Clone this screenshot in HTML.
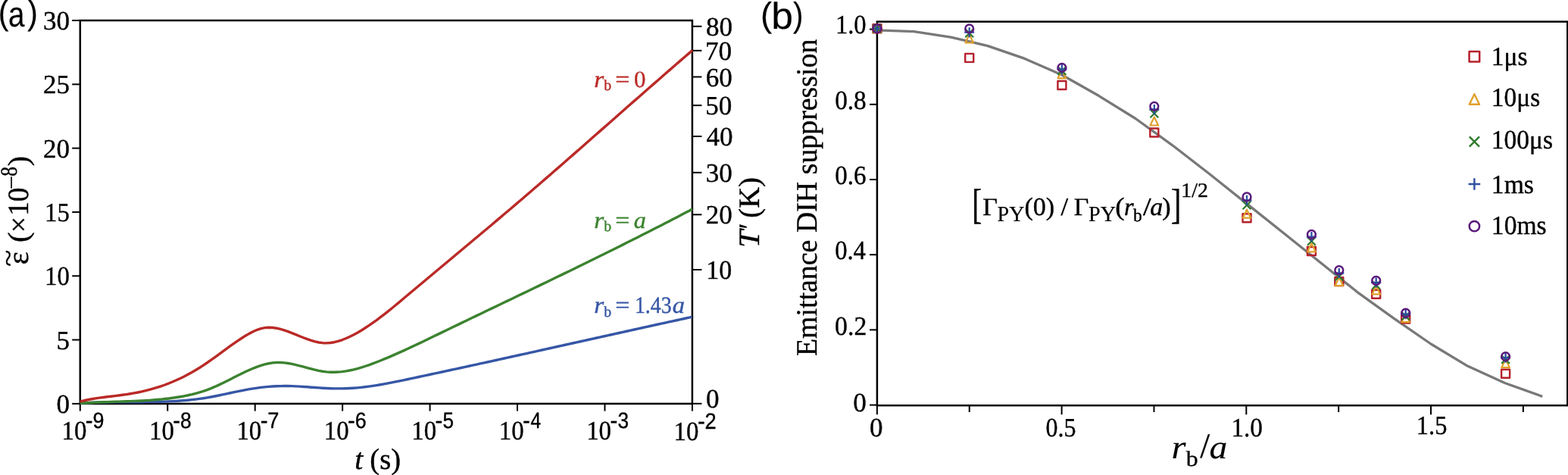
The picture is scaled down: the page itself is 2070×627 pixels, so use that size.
<!DOCTYPE html>
<html lang="en">
<head>
<meta charset="utf-8">
<title>Emittance growth and DIH suppression</title>
<style>
html,body{margin:0;padding:0;background:#fff;}
body{width:2070px;height:627px;overflow:hidden;}
svg{display:block;}
text{white-space:pre;text-rendering:geometricPrecision;font-kerning:none;stroke-linejoin:round;}
</style>
</head>
<body>
<svg width="2070" height="627" viewBox="0 0 2070 627">
<rect x="0" y="0" width="2070" height="627" fill="#ffffff"/>
<rect x="105.80" y="27.00" width="808.10" height="505.90" fill="none" stroke="#000" stroke-width="2.50"/>
<line x1="95.20" y1="532.90" x2="105.80" y2="532.90" stroke="#000" stroke-width="2.00"/>
<text transform="translate(74.43 544.90)" font-family='"Liberation Serif", "DejaVu Serif", serif' font-size="35.00" fill="#000" stroke="#000" stroke-width="0.40">0</text>
<line x1="95.20" y1="448.58" x2="105.80" y2="448.58" stroke="#000" stroke-width="2.00"/>
<text transform="translate(74.47 460.58)" font-family='"Liberation Serif", "DejaVu Serif", serif' font-size="35.00" fill="#000" stroke="#000" stroke-width="0.40">5</text>
<line x1="95.20" y1="364.27" x2="105.80" y2="364.27" stroke="#000" stroke-width="2.00"/>
<text transform="translate(59.02 376.27) scale(0.9379 1.0000)" font-family='"Liberation Serif", "DejaVu Serif", serif' font-size="35.00" fill="#000" stroke="#000" stroke-width="0.40">10</text>
<line x1="95.20" y1="279.95" x2="105.80" y2="279.95" stroke="#000" stroke-width="2.00"/>
<text transform="translate(59.06 291.95) scale(0.9378 1.0000)" font-family='"Liberation Serif", "DejaVu Serif", serif' font-size="35.00" fill="#000" stroke="#000" stroke-width="0.40">15</text>
<line x1="95.20" y1="195.63" x2="105.80" y2="195.63" stroke="#000" stroke-width="2.00"/>
<text transform="translate(56.93 207.63)" font-family='"Liberation Serif", "DejaVu Serif", serif' font-size="35.00" fill="#000" stroke="#000" stroke-width="0.40">20</text>
<line x1="95.20" y1="111.32" x2="105.80" y2="111.32" stroke="#000" stroke-width="2.00"/>
<text transform="translate(56.97 123.32)" font-family='"Liberation Serif", "DejaVu Serif", serif' font-size="35.00" fill="#000" stroke="#000" stroke-width="0.40">25</text>
<line x1="95.20" y1="27.00" x2="105.80" y2="27.00" stroke="#000" stroke-width="2.00"/>
<text transform="translate(56.93 39.00)" font-family='"Liberation Serif", "DejaVu Serif", serif' font-size="35.00" fill="#000" stroke="#000" stroke-width="0.40">30</text>
<line x1="105.80" y1="532.90" x2="105.80" y2="542.60" stroke="#000" stroke-width="2.00"/>
<g><text transform="translate(81.51 580.00) scale(0.9382 1.0000)" font-family='"Liberation Serif", "DejaVu Serif", serif' font-size="35.00" fill="#000" stroke="#000" stroke-width="0.40">10</text><text transform="translate(112.79 565.10) scale(0.9830 1.0000)" font-family='"Liberation Sans", "DejaVu Sans", sans-serif' font-size="30.00" fill="#000" stroke="#000" stroke-width="0.40">-</text><text transform="translate(122.54 565.10) scale(0.9100 1.0000)" font-family='"Liberation Sans", "DejaVu Sans", sans-serif' font-size="29.50" fill="#000" stroke="#000" stroke-width="0.40">9</text></g>
<line x1="221.24" y1="532.90" x2="221.24" y2="542.60" stroke="#000" stroke-width="2.00"/>
<g><text transform="translate(196.96 580.00) scale(0.9382 1.0000)" font-family='"Liberation Serif", "DejaVu Serif", serif' font-size="35.00" fill="#000" stroke="#000" stroke-width="0.40">10</text><text transform="translate(228.23 565.10) scale(0.9830 1.0000)" font-family='"Liberation Sans", "DejaVu Sans", sans-serif' font-size="30.00" fill="#000" stroke="#000" stroke-width="0.40">-</text><text transform="translate(238.09 565.10) scale(0.8958 1.0000)" font-family='"Liberation Sans", "DejaVu Sans", sans-serif' font-size="29.50" fill="#000" stroke="#000" stroke-width="0.40">8</text></g>
<line x1="336.69" y1="532.90" x2="336.69" y2="542.60" stroke="#000" stroke-width="2.00"/>
<g><text transform="translate(312.40 580.00) scale(0.9382 1.0000)" font-family='"Liberation Serif", "DejaVu Serif", serif' font-size="35.00" fill="#000" stroke="#000" stroke-width="0.40">10</text><text transform="translate(343.68 565.10) scale(0.9830 1.0000)" font-family='"Liberation Sans", "DejaVu Sans", sans-serif' font-size="30.00" fill="#000" stroke="#000" stroke-width="0.40">-</text><text transform="translate(353.29 565.10) scale(0.9247 1.0000)" font-family='"Liberation Sans", "DejaVu Sans", sans-serif' font-size="29.50" fill="#000" stroke="#000" stroke-width="0.40">7</text></g>
<line x1="452.13" y1="532.90" x2="452.13" y2="542.60" stroke="#000" stroke-width="2.00"/>
<g><text transform="translate(427.84 580.00) scale(0.9382 1.0000)" font-family='"Liberation Serif", "DejaVu Serif", serif' font-size="35.00" fill="#000" stroke="#000" stroke-width="0.40">10</text><text transform="translate(459.12 565.10) scale(0.9830 1.0000)" font-family='"Liberation Sans", "DejaVu Sans", sans-serif' font-size="30.00" fill="#000" stroke="#000" stroke-width="0.40">-</text><text transform="translate(468.76 565.10) scale(0.9110 1.0000)" font-family='"Liberation Sans", "DejaVu Sans", sans-serif' font-size="29.50" fill="#000" stroke="#000" stroke-width="0.40">6</text></g>
<line x1="567.57" y1="532.90" x2="567.57" y2="542.60" stroke="#000" stroke-width="2.00"/>
<g><text transform="translate(543.29 580.00) scale(0.9382 1.0000)" font-family='"Liberation Serif", "DejaVu Serif", serif' font-size="35.00" fill="#000" stroke="#000" stroke-width="0.40">10</text><text transform="translate(574.56 565.10) scale(0.9830 1.0000)" font-family='"Liberation Sans", "DejaVu Sans", sans-serif' font-size="30.00" fill="#000" stroke="#000" stroke-width="0.40">-</text><text transform="translate(584.52 565.10) scale(0.8866 1.0000)" font-family='"Liberation Sans", "DejaVu Sans", sans-serif' font-size="29.50" fill="#000" stroke="#000" stroke-width="0.40">5</text></g>
<line x1="683.01" y1="532.90" x2="683.01" y2="542.60" stroke="#000" stroke-width="2.00"/>
<g><text transform="translate(658.73 580.00) scale(0.9382 1.0000)" font-family='"Liberation Serif", "DejaVu Serif", serif' font-size="35.00" fill="#000" stroke="#000" stroke-width="0.40">10</text><text transform="translate(690.00 565.10) scale(0.9830 1.0000)" font-family='"Liberation Sans", "DejaVu Sans", sans-serif' font-size="30.00" fill="#000" stroke="#000" stroke-width="0.40">-</text><text transform="translate(700.45 565.10) scale(0.8342 1.0000)" font-family='"Liberation Sans", "DejaVu Sans", sans-serif' font-size="29.50" fill="#000" stroke="#000" stroke-width="0.40">4</text></g>
<line x1="798.46" y1="532.90" x2="798.46" y2="542.60" stroke="#000" stroke-width="2.00"/>
<g><text transform="translate(774.17 580.00) scale(0.9382 1.0000)" font-family='"Liberation Serif", "DejaVu Serif", serif' font-size="35.00" fill="#000" stroke="#000" stroke-width="0.40">10</text><text transform="translate(805.45 565.10) scale(0.9830 1.0000)" font-family='"Liberation Sans", "DejaVu Sans", sans-serif' font-size="30.00" fill="#000" stroke="#000" stroke-width="0.40">-</text><text transform="translate(815.46 565.10) scale(0.8866 1.0000)" font-family='"Liberation Sans", "DejaVu Sans", sans-serif' font-size="29.50" fill="#000" stroke="#000" stroke-width="0.40">3</text></g>
<line x1="913.90" y1="532.90" x2="913.90" y2="542.60" stroke="#000" stroke-width="2.00"/>
<g><text transform="translate(889.61 580.80) scale(0.9382 1.0000)" font-family='"Liberation Serif", "DejaVu Serif", serif' font-size="35.00" fill="#000" stroke="#000" stroke-width="0.40">10</text><text transform="translate(920.89 565.90) scale(0.9830 1.0000)" font-family='"Liberation Sans", "DejaVu Sans", sans-serif' font-size="30.00" fill="#000" stroke="#000" stroke-width="0.40">-</text><text transform="translate(930.53 565.90) scale(0.9227 1.0000)" font-family='"Liberation Sans", "DejaVu Sans", sans-serif' font-size="29.50" fill="#000" stroke="#000" stroke-width="0.40">2</text></g>
<line x1="913.90" y1="532.80" x2="926.40" y2="532.80" stroke="#000" stroke-width="2.00"/>
<text transform="translate(931.97 537.60)" font-family='"Liberation Serif", "DejaVu Serif", serif' font-size="35.00" fill="#000" stroke="#000" stroke-width="0.40">0</text>
<line x1="913.90" y1="356.00" x2="926.40" y2="356.00" stroke="#000" stroke-width="2.00"/>
<text transform="translate(932.22 368.00) scale(0.9676 1.0000)" font-family='"Liberation Serif", "DejaVu Serif", serif' font-size="35.00" fill="#000" stroke="#000" stroke-width="0.40">10</text>
<line x1="913.90" y1="283.30" x2="926.40" y2="283.30" stroke="#000" stroke-width="2.00"/>
<text transform="translate(931.76 295.30)" font-family='"Liberation Serif", "DejaVu Serif", serif' font-size="35.00" fill="#000" stroke="#000" stroke-width="0.40">20</text>
<line x1="913.90" y1="227.80" x2="926.40" y2="227.80" stroke="#000" stroke-width="2.00"/>
<text transform="translate(931.63 239.80)" font-family='"Liberation Serif", "DejaVu Serif", serif' font-size="35.00" fill="#000" stroke="#000" stroke-width="0.40">30</text>
<line x1="913.90" y1="180.00" x2="926.40" y2="180.00" stroke="#000" stroke-width="2.00"/>
<text transform="translate(932.62 192.00)" font-family='"Liberation Serif", "DejaVu Serif", serif' font-size="35.00" fill="#000" stroke="#000" stroke-width="0.40">40</text>
<line x1="913.90" y1="139.10" x2="926.40" y2="139.10" stroke="#000" stroke-width="2.00"/>
<text transform="translate(931.27 151.10)" font-family='"Liberation Serif", "DejaVu Serif", serif' font-size="35.00" fill="#000" stroke="#000" stroke-width="0.40">50</text>
<line x1="913.90" y1="101.50" x2="926.40" y2="101.50" stroke="#000" stroke-width="2.00"/>
<text transform="translate(931.80 113.50)" font-family='"Liberation Serif", "DejaVu Serif", serif' font-size="35.00" fill="#000" stroke="#000" stroke-width="0.40">60</text>
<line x1="913.90" y1="66.80" x2="926.40" y2="66.80" stroke="#000" stroke-width="2.00"/>
<text transform="translate(930.99 78.80)" font-family='"Liberation Serif", "DejaVu Serif", serif' font-size="35.00" fill="#000" stroke="#000" stroke-width="0.40">70</text>
<line x1="913.90" y1="34.80" x2="926.40" y2="34.80" stroke="#000" stroke-width="2.00"/>
<text transform="translate(931.97 46.80)" font-family='"Liberation Serif", "DejaVu Serif", serif' font-size="35.00" fill="#000" stroke="#000" stroke-width="0.40">80</text>
<path d="M105.80 532.30 L110.88 531.98 L115.96 531.70 L121.04 531.48 L126.12 531.29 L131.21 531.14 L136.29 531.02 L141.37 530.93 L146.45 530.86 L151.53 530.81 L156.61 530.78 L161.69 530.76 L166.77 530.75 L171.85 530.74 L176.94 530.73 L182.02 530.71 L187.10 530.69 L192.18 530.65 L197.26 530.60 L202.34 530.52 L207.42 530.42 L212.50 530.29 L217.58 530.12 L222.67 529.92 L227.75 529.67 L232.83 529.38 L237.91 529.04 L242.99 528.64 L248.07 528.19 L253.15 527.67 L258.23 527.09 L263.32 526.43 L268.40 525.70 L273.48 524.89 L278.56 524.00 L283.64 523.04 L288.72 522.02 L293.80 520.96 L298.88 519.88 L303.96 518.78 L309.05 517.69 L314.13 516.62 L319.21 515.58 L324.29 514.59 L329.37 513.66 L334.45 512.81 L339.53 512.06 L344.61 511.40 L349.69 510.85 L354.78 510.40 L359.86 510.04 L364.94 509.79 L370.02 509.62 L375.10 509.55 L380.18 509.57 L385.26 509.67 L390.34 509.87 L395.42 510.13 L400.51 510.45 L405.59 510.80 L410.67 511.18 L415.75 511.56 L420.83 511.91 L425.91 512.23 L430.99 512.50 L436.07 512.71 L441.15 512.85 L446.24 512.92 L451.32 512.89 L456.40 512.78 L461.48 512.57 L466.56 512.25 L471.64 511.84 L476.72 511.34 L481.80 510.76 L486.88 510.10 L491.97 509.37 L497.05 508.58 L502.13 507.73 L507.21 506.83 L512.29 505.88 L517.37 504.90 L522.45 503.89 L527.53 502.85 L532.62 501.79 L537.70 500.72 L542.78 499.65 L547.86 498.57 L552.94 497.50 L558.02 496.41 L563.10 495.33 L568.18 494.25 L573.26 493.16 L578.35 492.07 L583.43 490.98 L588.51 489.88 L593.59 488.78 L598.67 487.69 L603.75 486.59 L608.83 485.48 L613.91 484.38 L618.99 483.28 L624.08 482.17 L629.16 481.06 L634.24 479.95 L639.32 478.84 L644.40 477.73 L649.48 476.61 L654.56 475.50 L659.64 474.38 L664.72 473.26 L669.81 472.14 L674.89 471.02 L679.97 469.90 L685.05 468.78 L690.13 467.66 L695.21 466.54 L700.29 465.41 L705.37 464.29 L710.45 463.16 L715.54 462.03 L720.62 460.91 L725.70 459.78 L730.78 458.65 L735.86 457.53 L740.94 456.40 L746.02 455.27 L751.10 454.14 L756.18 453.01 L761.27 451.88 L766.35 450.76 L771.43 449.63 L776.51 448.50 L781.59 447.37 L786.67 446.24 L791.75 445.12 L796.83 443.99 L801.92 442.86 L807.00 441.74 L812.08 440.61 L817.16 439.48 L822.24 438.36 L827.32 437.24 L832.40 436.11 L837.48 434.99 L842.56 433.87 L847.65 432.75 L852.73 431.63 L857.81 430.51 L862.89 429.40 L867.97 428.28 L873.05 427.16 L878.13 426.05 L883.21 424.94 L888.29 423.83 L893.38 422.72 L898.46 421.61 L903.54 420.51 L908.62 419.40 L913.70 418.30" fill="none" stroke="#3656a6" stroke-width="3.4" stroke-linejoin="round"/>
<path d="M105.80 532.40 L110.88 532.04 L115.97 531.72 L121.05 531.44 L126.13 531.20 L131.22 530.98 L136.30 530.78 L141.38 530.60 L146.46 530.44 L151.55 530.28 L156.63 530.12 L161.71 529.96 L166.80 529.79 L171.88 529.61 L176.96 529.41 L182.05 529.19 L187.13 528.94 L192.21 528.65 L197.29 528.33 L202.38 527.96 L207.46 527.54 L212.54 527.07 L217.63 526.54 L222.71 525.94 L227.79 525.27 L232.88 524.53 L237.96 523.71 L243.04 522.80 L248.12 521.78 L253.21 520.64 L258.29 519.37 L263.37 517.94 L268.46 516.34 L273.54 514.56 L278.62 512.59 L283.71 510.44 L288.79 508.15 L293.87 505.74 L298.95 503.24 L304.04 500.68 L309.12 498.09 L314.20 495.52 L319.29 492.99 L324.37 490.54 L329.45 488.22 L334.54 486.06 L339.62 484.09 L344.70 482.35 L349.78 480.89 L354.87 479.73 L359.95 478.92 L365.03 478.49 L370.12 478.47 L375.20 478.83 L380.28 479.50 L385.37 480.43 L390.45 481.56 L395.53 482.83 L400.62 484.18 L405.70 485.57 L410.78 486.92 L415.86 488.18 L420.95 489.30 L426.03 490.22 L431.11 490.87 L436.20 491.22 L441.28 491.28 L446.36 491.07 L451.45 490.60 L456.53 489.90 L461.61 488.98 L466.69 487.87 L471.78 486.57 L476.86 485.11 L481.94 483.50 L487.03 481.77 L492.11 479.93 L497.19 478.00 L502.28 476.00 L507.36 473.94 L512.44 471.82 L517.52 469.65 L522.61 467.43 L527.69 465.16 L532.77 462.86 L537.86 460.52 L542.94 458.15 L548.02 455.76 L553.11 453.34 L558.19 450.91 L563.27 448.46 L568.35 446.01 L573.44 443.55 L578.52 441.10 L583.60 438.64 L588.69 436.19 L593.77 433.74 L598.85 431.29 L603.94 428.85 L609.02 426.40 L614.10 423.96 L619.18 421.52 L624.27 419.08 L629.35 416.64 L634.43 414.20 L639.52 411.77 L644.60 409.33 L649.68 406.89 L654.77 404.45 L659.85 402.02 L664.93 399.58 L670.02 397.14 L675.10 394.70 L680.18 392.26 L685.26 389.82 L690.35 387.38 L695.43 384.94 L700.51 382.49 L705.60 380.05 L710.68 377.60 L715.76 375.15 L720.85 372.70 L725.93 370.24 L731.01 367.78 L736.09 365.32 L741.18 362.86 L746.26 360.39 L751.34 357.92 L756.43 355.45 L761.51 352.97 L766.59 350.49 L771.68 348.00 L776.76 345.51 L781.84 343.02 L786.92 340.52 L792.01 338.01 L797.09 335.51 L802.17 332.99 L807.26 330.47 L812.34 327.95 L817.42 325.42 L822.51 322.88 L827.59 320.34 L832.67 317.79 L837.75 315.23 L842.84 312.67 L847.92 310.10 L853.00 307.52 L858.09 304.94 L863.17 302.35 L868.25 299.75 L873.34 297.15 L878.42 294.53 L883.50 291.91 L888.58 289.28 L893.67 286.64 L898.75 283.99 L903.83 281.34 L908.92 278.67 L914.00 276.00" fill="none" stroke="#3c8330" stroke-width="3.4" stroke-linejoin="round"/>
<path d="M105.80 529.98 L110.88 528.78 L115.97 527.72 L121.05 526.77 L126.13 525.93 L131.22 525.17 L136.30 524.47 L141.38 523.81 L146.46 523.19 L151.55 522.57 L156.63 521.94 L161.71 521.28 L166.80 520.57 L171.88 519.79 L176.96 518.93 L182.05 517.96 L187.13 516.89 L192.21 515.71 L197.29 514.40 L202.38 512.98 L207.46 511.44 L212.54 509.77 L217.63 507.98 L222.71 506.05 L227.79 503.98 L232.88 501.78 L237.96 499.43 L243.04 496.94 L248.12 494.30 L253.21 491.50 L258.29 488.55 L263.37 485.44 L268.46 482.17 L273.54 478.74 L278.62 475.18 L283.71 471.52 L288.79 467.81 L293.87 464.07 L298.95 460.34 L304.04 456.65 L309.12 453.04 L314.20 449.55 L319.29 446.21 L324.37 443.05 L329.45 440.12 L334.54 437.50 L339.62 435.30 L344.70 433.64 L349.78 432.63 L354.87 432.27 L359.95 432.49 L365.03 433.21 L370.12 434.36 L375.20 435.85 L380.28 437.62 L385.37 439.57 L390.45 441.63 L395.53 443.72 L400.62 445.78 L405.70 447.71 L410.78 449.44 L415.86 450.89 L420.95 452.00 L426.03 452.69 L431.11 452.87 L436.20 452.53 L441.28 451.70 L446.36 450.42 L451.45 448.76 L456.53 446.76 L461.61 444.47 L466.69 441.94 L471.78 439.18 L476.86 436.21 L481.94 433.04 L487.03 429.70 L492.11 426.18 L497.19 422.52 L502.28 418.73 L507.36 414.81 L512.44 410.80 L517.52 406.70 L522.61 402.54 L527.69 398.32 L532.77 394.06 L537.86 389.78 L542.94 385.50 L548.02 381.22 L553.11 376.95 L558.19 372.69 L563.27 368.43 L568.35 364.18 L573.44 359.93 L578.52 355.68 L583.60 351.44 L588.69 347.19 L593.77 342.95 L598.85 338.71 L603.94 334.47 L609.02 330.23 L614.10 325.99 L619.18 321.74 L624.27 317.50 L629.35 313.24 L634.43 308.99 L639.52 304.73 L644.60 300.46 L649.68 296.19 L654.77 291.91 L659.85 287.62 L664.93 283.32 L670.02 279.01 L675.10 274.70 L680.18 270.37 L685.26 266.03 L690.35 261.68 L695.43 257.32 L700.51 252.95 L705.60 248.57 L710.68 244.18 L715.76 239.79 L720.85 235.38 L725.93 230.97 L731.01 226.55 L736.09 222.12 L741.18 217.69 L746.26 213.25 L751.34 208.81 L756.43 204.36 L761.51 199.90 L766.59 195.44 L771.68 190.98 L776.76 186.52 L781.84 182.05 L786.92 177.58 L792.01 173.11 L797.09 168.64 L802.17 164.17 L807.26 159.69 L812.34 155.22 L817.42 150.75 L822.51 146.28 L827.59 141.81 L832.67 137.34 L837.75 132.87 L842.84 128.41 L847.92 123.95 L853.00 119.50 L858.09 115.04 L863.17 110.60 L868.25 106.16 L873.34 101.72 L878.42 97.29 L883.50 92.87 L888.58 88.46 L893.67 84.05 L898.75 79.65 L903.83 75.26 L908.92 70.87 L914.00 66.50" fill="none" stroke="#ba2a27" stroke-width="3.4" stroke-linejoin="round"/>
<g><text transform="translate(784.25 114.50) scale(1.0735 1.0000)" font-family='"Liberation Serif", "DejaVu Serif", serif' font-size="31.00" fill="#ba2a27" font-style="italic" stroke="#ba2a27" stroke-width="0.40">r</text><text transform="translate(797.20 119.20) scale(0.9850 1.0000)" font-family='"Liberation Serif", "DejaVu Serif", serif' font-size="20.00" fill="#ba2a27" stroke="#ba2a27" stroke-width="0.40">b</text><text transform="translate(803.82 114.50) scale(1.0953 1.0000)" font-family='"Liberation Serif", "DejaVu Serif", serif' font-size="31.00" fill="#ba2a27" stroke="#ba2a27" stroke-width="0.40"> = </text><text transform="translate(837.02 114.50) scale(0.9971 1.0000)" font-family='"Liberation Serif", "DejaVu Serif", serif' font-size="31.00" fill="#ba2a27" stroke="#ba2a27" stroke-width="0.40">0</text></g>
<g><text transform="translate(784.25 300.50) scale(1.0735 1.0000)" font-family='"Liberation Serif", "DejaVu Serif", serif' font-size="31.00" fill="#3c8330" font-style="italic" stroke="#3c8330" stroke-width="0.40">r</text><text transform="translate(797.20 305.20) scale(0.9850 1.0000)" font-family='"Liberation Serif", "DejaVu Serif", serif' font-size="20.00" fill="#3c8330" stroke="#3c8330" stroke-width="0.40">b</text><text transform="translate(803.82 300.50) scale(1.0953 1.0000)" font-family='"Liberation Serif", "DejaVu Serif", serif' font-size="31.00" fill="#3c8330" stroke="#3c8330" stroke-width="0.40"> = </text><text transform="translate(836.84 300.50) scale(1.0365 1.0000)" font-family='"Liberation Serif", "DejaVu Serif", serif' font-size="31.00" fill="#3c8330" font-style="italic" stroke="#3c8330" stroke-width="0.40">a</text></g>
<g><text transform="translate(784.25 412.90) scale(1.0735 1.0000)" font-family='"Liberation Serif", "DejaVu Serif", serif' font-size="31.00" fill="#3656a6" font-style="italic" stroke="#3656a6" stroke-width="0.40">r</text><text transform="translate(797.20 417.60) scale(0.9850 1.0000)" font-family='"Liberation Serif", "DejaVu Serif", serif' font-size="20.00" fill="#3656a6" stroke="#3656a6" stroke-width="0.40">b</text><text transform="translate(803.82 412.90) scale(1.0953 1.0000)" font-family='"Liberation Serif", "DejaVu Serif", serif' font-size="31.00" fill="#3656a6" stroke="#3656a6" stroke-width="0.40"> = </text><text transform="translate(837.96 412.90) scale(0.8964 1.0000)" font-family='"Liberation Serif", "DejaVu Serif", serif' font-size="31.00" fill="#3656a6" stroke="#3656a6" stroke-width="0.40">1.43</text><text transform="translate(887.84 412.90) scale(1.0439 1.0000)" font-family='"Liberation Serif", "DejaVu Serif", serif' font-size="31.00" fill="#3656a6" font-style="italic" stroke="#3656a6" stroke-width="0.40">a</text></g>
<g><text transform="translate(468.27 619.30) scale(1.0099 1.0000)" font-family='"Liberation Serif", "DejaVu Serif", serif' font-size="39.00" fill="#000" font-style="italic" stroke="#000" stroke-width="0.40">t</text><text transform="translate(478.67 619.30) scale(0.9888 1.0000)" font-family='"Liberation Serif", "DejaVu Serif", serif' font-size="39.00" fill="#000" stroke="#000" stroke-width="0.40"> (s)</text></g>
<g><text transform="translate(36.50 349.26) rotate(-90) scale(1.0401 1.0000)" font-family='"Liberation Serif", "DejaVu Serif", serif' font-size="39.00" fill="#000" stroke="#000" stroke-width="0.40">ε</text><text transform="translate(22.20 352.04) rotate(-90) scale(1.2023 1.0000)" font-family='"Liberation Serif", "DejaVu Serif", serif' font-size="34.00" fill="#000" stroke="#000" stroke-width="0.40">~</text><text transform="translate(36.50 330.12) rotate(-90) scale(1.0619 1.0000)" font-family='"Liberation Serif", "DejaVu Serif", serif' font-size="38.50" fill="#000" stroke="#000" stroke-width="0.40"> (</text><text transform="translate(36.50 307.04) rotate(-90) scale(0.9770 1.0000)" font-family='"Liberation Serif", "DejaVu Serif", serif' font-size="38.00" fill="#000" stroke="#000" stroke-width="0.40">×</text><text transform="translate(36.50 284.78) rotate(-90) scale(0.9638 1.0000)" font-family='"Liberation Serif", "DejaVu Serif", serif' font-size="38.70" fill="#000" stroke="#000" stroke-width="0.40">10</text><text transform="translate(24.60 250.11) rotate(-90) scale(1.0745 1.0000)" font-family='"Liberation Serif", "DejaVu Serif", serif' font-size="30.00" fill="#000" stroke="#000" stroke-width="0.40">−</text><text transform="translate(22.30 232.87) rotate(-90) scale(0.8220 1.0000)" font-family='"Liberation Serif", "DejaVu Serif", serif' font-size="31.00" fill="#000" stroke="#000" stroke-width="0.40">8</text><text transform="translate(36.50 219.19) rotate(-90) scale(1.0416 1.0000)" font-family='"Liberation Serif", "DejaVu Serif", serif' font-size="38.50" fill="#000" stroke="#000" stroke-width="0.40">)</text></g>
<g><text transform="translate(1001.70 327.04) rotate(-90) scale(1.0726 1.0000)" font-family='"Liberation Serif", "DejaVu Serif", serif' font-size="39.00" fill="#000" font-style="italic" stroke="#000" stroke-width="0.40">T</text><text transform="translate(1001.70 302.32) rotate(-90) scale(0.8966 1.0000)" font-family='"Liberation Serif", "DejaVu Serif", serif' font-size="39.00" fill="#000" stroke="#000" stroke-width="0.40">′</text><text transform="translate(1001.70 297.37) rotate(-90) scale(0.9919 1.0000)" font-family='"Liberation Serif", "DejaVu Serif", serif' font-size="39.00" fill="#000" stroke="#000" stroke-width="0.40"> (K)</text></g>
<g><text transform="translate(-2.27 31.50) scale(0.9019 1.0000)" font-family='"Liberation Sans", "DejaVu Sans", sans-serif' font-size="46.00" fill="#000" stroke="#000" stroke-width="0.15">(</text><text transform="translate(10.96 34.90) scale(0.8201 1.0000)" font-family='"Liberation Sans", "DejaVu Sans", sans-serif' font-size="47.00" fill="#000" stroke="#000" stroke-width="0.15">a</text><text transform="translate(35.95 31.50) scale(0.9101 1.0000)" font-family='"Liberation Sans", "DejaVu Sans", sans-serif' font-size="46.00" fill="#000" stroke="#000" stroke-width="0.15">)</text></g>
<rect x="1157.90" y="28.60" width="911.40" height="506.60" fill="none" stroke="#000" stroke-width="2.5"/>
<line x1="1148.00" y1="534.60" x2="1157.90" y2="534.60" stroke="#000" stroke-width="2.00"/>
<text transform="translate(1126.23 543.40)" font-family='"Liberation Serif", "DejaVu Serif", serif' font-size="35.00" fill="#000" stroke="#000" stroke-width="0.40">0</text>
<line x1="1148.00" y1="435.40" x2="1157.90" y2="435.40" stroke="#000" stroke-width="2.00"/>
<text transform="translate(1102.12 441.50) scale(0.9633 1.0000)" font-family='"Liberation Serif", "DejaVu Serif", serif' font-size="35.00" fill="#000" stroke="#000" stroke-width="0.40">0.2</text>
<line x1="1148.00" y1="336.20" x2="1157.90" y2="336.20" stroke="#000" stroke-width="2.00"/>
<text transform="translate(1102.16 342.30) scale(0.9315 1.0000)" font-family='"Liberation Serif", "DejaVu Serif", serif' font-size="35.00" fill="#000" stroke="#000" stroke-width="0.40">0.4</text>
<line x1="1148.00" y1="237.00" x2="1157.90" y2="237.00" stroke="#000" stroke-width="2.00"/>
<text transform="translate(1102.14 243.10) scale(0.9426 1.0000)" font-family='"Liberation Serif", "DejaVu Serif", serif' font-size="35.00" fill="#000" stroke="#000" stroke-width="0.40">0.6</text>
<line x1="1148.00" y1="137.80" x2="1157.90" y2="137.80" stroke="#000" stroke-width="2.00"/>
<text transform="translate(1102.13 143.90) scale(0.9493 1.0000)" font-family='"Liberation Serif", "DejaVu Serif", serif' font-size="35.00" fill="#000" stroke="#000" stroke-width="0.40">0.8</text>
<line x1="1148.00" y1="38.60" x2="1157.90" y2="38.60" stroke="#000" stroke-width="2.00"/>
<text transform="translate(1102.94 44.20) scale(0.9303 1.0000)" font-family='"Liberation Serif", "DejaVu Serif", serif' font-size="35.00" fill="#000" stroke="#000" stroke-width="0.40">1.0</text>
<line x1="1157.90" y1="535.20" x2="1157.90" y2="547.20" stroke="#000" stroke-width="2.00"/>
<line x1="1279.75" y1="535.20" x2="1279.75" y2="544.00" stroke="#000" stroke-width="2.00"/>
<line x1="1401.60" y1="535.20" x2="1401.60" y2="547.20" stroke="#000" stroke-width="2.00"/>
<line x1="1523.45" y1="535.20" x2="1523.45" y2="544.00" stroke="#000" stroke-width="2.00"/>
<line x1="1645.30" y1="535.20" x2="1645.30" y2="547.20" stroke="#000" stroke-width="2.00"/>
<line x1="1767.15" y1="535.20" x2="1767.15" y2="544.00" stroke="#000" stroke-width="2.00"/>
<line x1="1889.00" y1="535.20" x2="1889.00" y2="547.20" stroke="#000" stroke-width="2.00"/>
<line x1="2010.85" y1="535.20" x2="2010.85" y2="544.00" stroke="#000" stroke-width="2.00"/>
<text transform="translate(1148.07 576.20)" font-family='"Liberation Serif", "DejaVu Serif", serif' font-size="35.00" fill="#000" stroke="#000" stroke-width="0.40">0</text>
<text transform="translate(1380.48 576.20) scale(0.9135 1.0000)" font-family='"Liberation Serif", "DejaVu Serif", serif' font-size="35.00" fill="#000" stroke="#000" stroke-width="0.40">0.5</text>
<text transform="translate(1625.38 576.20) scale(0.9481 1.0000)" font-family='"Liberation Serif", "DejaVu Serif", serif' font-size="35.00" fill="#000" stroke="#000" stroke-width="0.40">1.0</text>
<text transform="translate(1869.85 573.00) scale(0.9261 1.0000)" font-family='"Liberation Serif", "DejaVu Serif", serif' font-size="35.00" fill="#000" stroke="#000" stroke-width="0.40">1.5</text>
<path d="M1157.90 39.80 L1206.64 41.70 L1255.38 49.10 L1304.12 60.60 L1352.86 77.40 L1401.60 98.80 L1450.34 126.30 L1499.08 156.50 L1547.82 191.80 L1596.56 229.50 L1645.30 268.40 L1694.04 307.30 L1742.78 346.20 L1791.52 385.30 L1840.26 420.40 L1889.00 454.00 L1937.74 483.30 L1986.48 505.50 L2036.19 523.40" fill="none" stroke="#787878" stroke-width="3.3" stroke-linejoin="round"/>
<rect x="1152.40" y="32.20" width="11.00" height="11.00" fill="none" stroke="#b5202b" stroke-width="2.40" stroke-linejoin="round"/>
<path d="M1157.90 31.70 L1163.20 42.70 L1152.60 42.70 Z" fill="none" stroke="#e0a02a" stroke-width="2.20" stroke-linejoin="round"/>
<path d="M1152.50 32.30 L1163.30 43.10 M1152.50 43.10 L1163.30 32.30" fill="none" stroke="#2f7a2e" stroke-width="2.20"/>
<path d="M1151.40 37.70 L1164.40 37.70 M1157.90 31.20 L1157.90 44.20" fill="none" stroke="#2b4f9f" stroke-width="2.30"/>
<circle cx="1157.90" cy="37.70" r="5.40" fill="none" stroke="#5a1a7c" stroke-width="2.50"/>
<rect x="1274.20" y="70.90" width="11.00" height="11.00" fill="none" stroke="#b5202b" stroke-width="2.40" stroke-linejoin="round"/>
<path d="M1279.70 45.50 L1285.00 56.50 L1274.40 56.50 Z" fill="none" stroke="#e0a02a" stroke-width="2.20" stroke-linejoin="round"/>
<path d="M1274.30 38.40 L1285.10 49.20 M1274.30 49.20 L1285.10 38.40" fill="none" stroke="#2f7a2e" stroke-width="2.20"/>
<path d="M1273.20 42.70 L1286.20 42.70 M1279.70 36.20 L1279.70 49.20" fill="none" stroke="#2b4f9f" stroke-width="2.30"/>
<circle cx="1279.70" cy="37.90" r="5.40" fill="none" stroke="#5a1a7c" stroke-width="2.50"/>
<rect x="1396.40" y="107.00" width="11.00" height="11.00" fill="none" stroke="#b5202b" stroke-width="2.40" stroke-linejoin="round"/>
<path d="M1401.90 92.30 L1407.20 103.30 L1396.60 103.30 Z" fill="none" stroke="#e0a02a" stroke-width="2.20" stroke-linejoin="round"/>
<path d="M1396.50 88.10 L1407.30 98.90 M1396.50 98.90 L1407.30 88.10" fill="none" stroke="#2f7a2e" stroke-width="2.20"/>
<path d="M1395.40 91.40 L1408.40 91.40 M1401.90 84.90 L1401.90 97.90" fill="none" stroke="#2b4f9f" stroke-width="2.30"/>
<circle cx="1401.90" cy="89.40" r="5.40" fill="none" stroke="#5a1a7c" stroke-width="2.50"/>
<rect x="1518.30" y="169.50" width="11.00" height="11.00" fill="none" stroke="#b5202b" stroke-width="2.40" stroke-linejoin="round"/>
<path d="M1523.80 154.50 L1529.10 165.50 L1518.50 165.50 Z" fill="none" stroke="#e0a02a" stroke-width="2.20" stroke-linejoin="round"/>
<path d="M1518.40 144.50 L1529.20 155.30 M1518.40 155.30 L1529.20 144.50" fill="none" stroke="#2f7a2e" stroke-width="2.20"/>
<path d="M1517.30 144.40 L1530.30 144.40 M1523.80 137.90 L1523.80 150.90" fill="none" stroke="#2b4f9f" stroke-width="2.30"/>
<circle cx="1523.80" cy="140.40" r="5.40" fill="none" stroke="#5a1a7c" stroke-width="2.50"/>
<rect x="1640.50" y="282.30" width="11.00" height="11.00" fill="none" stroke="#b5202b" stroke-width="2.40" stroke-linejoin="round"/>
<path d="M1646.00 276.70 L1651.30 287.70 L1640.70 287.70 Z" fill="none" stroke="#e0a02a" stroke-width="2.20" stroke-linejoin="round"/>
<path d="M1640.60 265.50 L1651.40 276.30 M1640.60 276.30 L1651.40 265.50" fill="none" stroke="#2f7a2e" stroke-width="2.20"/>
<path d="M1639.50 264.30 L1652.50 264.30 M1646.00 257.80 L1646.00 270.80" fill="none" stroke="#2b4f9f" stroke-width="2.30"/>
<circle cx="1646.00" cy="260.00" r="5.40" fill="none" stroke="#5a1a7c" stroke-width="2.50"/>
<rect x="1725.90" y="326.00" width="11.00" height="11.00" fill="none" stroke="#b5202b" stroke-width="2.40" stroke-linejoin="round"/>
<path d="M1731.40 321.30 L1736.70 332.30 L1726.10 332.30 Z" fill="none" stroke="#e0a02a" stroke-width="2.20" stroke-linejoin="round"/>
<path d="M1726.00 312.90 L1736.80 323.70 M1726.00 323.70 L1736.80 312.90" fill="none" stroke="#2f7a2e" stroke-width="2.20"/>
<path d="M1724.90 312.60 L1737.90 312.60 M1731.40 306.10 L1731.40 319.10" fill="none" stroke="#2b4f9f" stroke-width="2.30"/>
<circle cx="1731.40" cy="309.50" r="5.40" fill="none" stroke="#5a1a7c" stroke-width="2.50"/>
<rect x="1762.30" y="366.10" width="11.00" height="11.00" fill="none" stroke="#b5202b" stroke-width="2.40" stroke-linejoin="round"/>
<path d="M1767.80 366.20 L1773.10 377.20 L1762.50 377.20 Z" fill="none" stroke="#e0a02a" stroke-width="2.20" stroke-linejoin="round"/>
<path d="M1762.40 359.60 L1773.20 370.40 M1762.40 370.40 L1773.20 359.60" fill="none" stroke="#2f7a2e" stroke-width="2.20"/>
<path d="M1761.30 360.50 L1774.30 360.50 M1767.80 354.00 L1767.80 367.00" fill="none" stroke="#2b4f9f" stroke-width="2.30"/>
<circle cx="1767.80" cy="356.70" r="5.40" fill="none" stroke="#5a1a7c" stroke-width="2.50"/>
<rect x="1811.20" y="382.70" width="11.00" height="11.00" fill="none" stroke="#b5202b" stroke-width="2.40" stroke-linejoin="round"/>
<path d="M1816.70 377.40 L1822.00 388.40 L1811.40 388.40 Z" fill="none" stroke="#e0a02a" stroke-width="2.20" stroke-linejoin="round"/>
<path d="M1811.30 370.90 L1822.10 381.70 M1811.30 381.70 L1822.10 370.90" fill="none" stroke="#2f7a2e" stroke-width="2.20"/>
<path d="M1810.20 373.00 L1823.20 373.00 M1816.70 366.50 L1816.70 379.50" fill="none" stroke="#2b4f9f" stroke-width="2.30"/>
<circle cx="1816.70" cy="370.50" r="5.40" fill="none" stroke="#5a1a7c" stroke-width="2.50"/>
<rect x="1850.20" y="415.60" width="11.00" height="11.00" fill="none" stroke="#b5202b" stroke-width="2.40" stroke-linejoin="round"/>
<path d="M1855.70 414.20 L1861.00 425.20 L1850.40 425.20 Z" fill="none" stroke="#e0a02a" stroke-width="2.20" stroke-linejoin="round"/>
<path d="M1850.30 411.90 L1861.10 422.70 M1850.30 422.70 L1861.10 411.90" fill="none" stroke="#2f7a2e" stroke-width="2.20"/>
<path d="M1849.20 414.70 L1862.20 414.70 M1855.70 408.20 L1855.70 421.20" fill="none" stroke="#2b4f9f" stroke-width="2.30"/>
<circle cx="1855.70" cy="413.20" r="5.40" fill="none" stroke="#5a1a7c" stroke-width="2.50"/>
<rect x="1982.10" y="487.80" width="11.00" height="11.00" fill="none" stroke="#b5202b" stroke-width="2.40" stroke-linejoin="round"/>
<path d="M1987.60 474.20 L1992.90 485.20 L1982.30 485.20 Z" fill="none" stroke="#e0a02a" stroke-width="2.20" stroke-linejoin="round"/>
<path d="M1982.20 469.10 L1993.00 479.90 M1982.20 479.90 L1993.00 469.10" fill="none" stroke="#2f7a2e" stroke-width="2.20"/>
<path d="M1981.10 472.20 L1994.10 472.20 M1987.60 465.70 L1987.60 478.70" fill="none" stroke="#2b4f9f" stroke-width="2.30"/>
<circle cx="1987.60" cy="470.60" r="5.40" fill="none" stroke="#5a1a7c" stroke-width="2.50"/>
<rect x="1939.60" y="68.00" width="13.60" height="13.60" fill="none" stroke="#b5202b" stroke-width="2.50" stroke-linejoin="round"/>
<path d="M1946.40 124.20 L1953.00 137.80 L1939.80 137.80 Z" fill="none" stroke="#e0a02a" stroke-width="2.40" stroke-linejoin="round"/>
<path d="M1939.80 180.40 L1953.00 193.60 M1939.80 193.60 L1953.00 180.40" fill="none" stroke="#2f7a2e" stroke-width="2.40"/>
<path d="M1938.60 243.00 L1954.20 243.00 M1946.40 235.20 L1946.40 250.80" fill="none" stroke="#2b4f9f" stroke-width="2.40"/>
<circle cx="1946.40" cy="298.60" r="6.70" fill="none" stroke="#5a1a7c" stroke-width="2.50"/>
<text transform="translate(1968.86 86.10) scale(0.9551 1.0000)" font-family='"Liberation Serif", "DejaVu Serif", serif' font-size="35.00" fill="#000" stroke="#000" stroke-width="0.40">1μs</text>
<text transform="translate(1968.86 139.70) scale(0.9549 1.0000)" font-family='"Liberation Serif", "DejaVu Serif", serif' font-size="35.00" fill="#000" stroke="#000" stroke-width="0.40">10μs</text>
<text transform="translate(1968.86 195.50) scale(0.9560 1.0000)" font-family='"Liberation Serif", "DejaVu Serif", serif' font-size="35.00" fill="#000" stroke="#000" stroke-width="0.40">100μs</text>
<text transform="translate(1968.84 254.50) scale(0.9610 1.0000)" font-family='"Liberation Serif", "DejaVu Serif", serif' font-size="35.00" fill="#000" stroke="#000" stroke-width="0.40">1ms</text>
<text transform="translate(1968.85 308.90) scale(0.9594 1.0000)" font-family='"Liberation Serif", "DejaVu Serif", serif' font-size="35.00" fill="#000" stroke="#000" stroke-width="0.40">10ms</text>
<g><text transform="translate(1283.30 287.60) scale(0.6977 1.0000)" font-family='"Liberation Serif", "DejaVu Serif", serif' font-size="56.00" fill="#000" stroke="#000" stroke-width="0.40">[</text><text transform="translate(1297.22 284.00) scale(1.0314 1.0000)" font-family='"Liberation Serif", "DejaVu Serif", serif' font-size="33.00" fill="#000" stroke="#000" stroke-width="0.40">Γ</text><text transform="translate(1316.59 292.20) scale(0.9690 1.0000)" font-family='"Liberation Serif", "DejaVu Serif", serif' font-size="29.00" fill="#000" stroke="#000" stroke-width="0.20">PY</text><text transform="translate(1352.40 284.00) scale(1.0189 1.0000)" font-family='"Liberation Serif", "DejaVu Serif", serif' font-size="33.50" fill="#000" stroke="#000" stroke-width="0.40">(0)</text><text transform="translate(1391.76 284.00) scale(1.0314 1.0000)" font-family='"Liberation Serif", "DejaVu Serif", serif' font-size="33.50" fill="#000" stroke="#000" stroke-width="0.40"> / </text><text transform="translate(1417.83 284.00) scale(1.0256 1.0000)" font-family='"Liberation Serif", "DejaVu Serif", serif' font-size="33.00" fill="#000" stroke="#000" stroke-width="0.40">Γ</text><text transform="translate(1437.09 292.20) scale(0.9718 1.0000)" font-family='"Liberation Serif", "DejaVu Serif", serif' font-size="29.00" fill="#000" stroke="#000" stroke-width="0.20">PY</text><text transform="translate(1472.37 284.00) scale(1.1041 1.0000)" font-family='"Liberation Serif", "DejaVu Serif", serif' font-size="33.50" fill="#000" stroke="#000" stroke-width="0.40">(</text><text transform="translate(1484.09 284.00) scale(0.9680 1.0000)" font-family='"Liberation Serif", "DejaVu Serif", serif' font-size="33.50" fill="#000" font-style="italic" stroke="#000" stroke-width="0.40">r</text><text transform="translate(1496.00 292.30) scale(0.9865 1.0000)" font-family='"Liberation Serif", "DejaVu Serif", serif' font-size="23.70" fill="#000" stroke="#000" stroke-width="0.40">b</text><text transform="translate(1509.00 284.00) scale(1.1389 1.0000)" font-family='"Liberation Serif", "DejaVu Serif", serif' font-size="33.50" fill="#000" stroke="#000" stroke-width="0.40">/</text><text transform="translate(1518.29 284.00) scale(1.0143 1.0000)" font-family='"Liberation Serif", "DejaVu Serif", serif' font-size="33.50" fill="#000" font-style="italic" stroke="#000" stroke-width="0.40">a</text><text transform="translate(1534.30 284.00) scale(1.0228 1.0000)" font-family='"Liberation Serif", "DejaVu Serif", serif' font-size="33.50" fill="#000" stroke="#000" stroke-width="0.40">)</text><text transform="translate(1545.72 287.60) scale(0.7298 1.0000)" font-family='"Liberation Serif", "DejaVu Serif", serif' font-size="56.00" fill="#000" stroke="#000" stroke-width="0.40">]</text><text transform="translate(1559.36 260.00) scale(1.0281 1.0000)" font-family='"Liberation Serif", "DejaVu Serif", serif' font-size="27.00" fill="#000" stroke="#000" stroke-width="0.40">1/2</text></g>
<text transform="translate(1077.90 470.09) rotate(-90) scale(0.9710 1.0000)" font-family='"Liberation Serif", "DejaVu Serif", serif' font-size="39.00" fill="#000" stroke="#000" stroke-width="0.40">Emittance DIH suppression</text>
<g><text transform="translate(1546.62 604.50) scale(1.1119 1.0000)" font-family='"Liberation Serif", "DejaVu Serif", serif' font-size="44.00" fill="#000" font-style="italic" stroke="#000" stroke-width="0.10">r</text><text transform="translate(1565.80 614.60) scale(1.1166 1.0000)" font-family='"Liberation Serif", "DejaVu Serif", serif' font-size="28.50" fill="#000" stroke="#000" stroke-width="0.30">b</text><text transform="translate(1584.30 604.00) scale(0.9985 1.0000)" font-family='"Liberation Serif", "DejaVu Serif", serif' font-size="46.50" fill="#000" stroke="#000" stroke-width="0.30">/</text><text transform="translate(1596.58 604.80) scale(1.0822 1.0000)" font-family='"Liberation Serif", "DejaVu Serif", serif' font-size="44.00" fill="#000" font-style="italic" stroke="#000" stroke-width="0.10">a</text></g>
<g><text transform="translate(1003.99 34.50) scale(0.9947 1.0000)" font-family='"Liberation Sans", "DejaVu Sans", sans-serif' font-size="45.50" fill="#000" stroke="#000" stroke-width="0.15">(</text><text transform="translate(1018.37 37.70) scale(1.0443 1.0000)" font-family='"Liberation Sans", "DejaVu Sans", sans-serif' font-size="49.40" fill="#000" stroke="#000" stroke-width="0.15">b</text><text transform="translate(1047.06 34.50) scale(0.8870 1.0000)" font-family='"Liberation Sans", "DejaVu Sans", sans-serif' font-size="45.50" fill="#000" stroke="#000" stroke-width="0.15">)</text></g>
</svg>
</body>
</html>
